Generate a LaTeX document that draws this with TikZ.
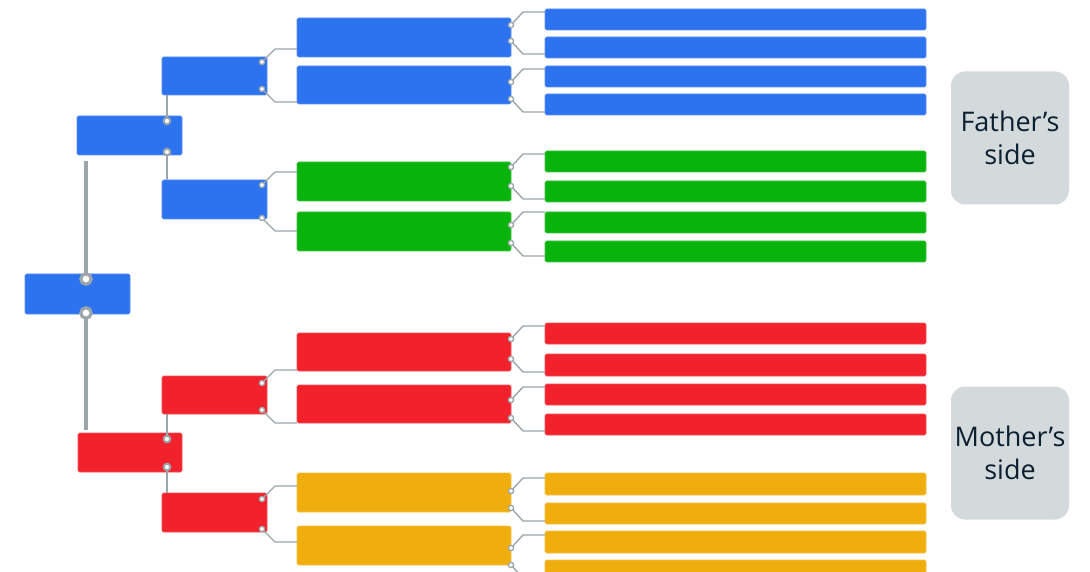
\documentclass[tikz,border=0pt]{standalone}
\usepackage{fontspec}
\newfontfamily\lblfont{Open Sans}
\usetikzlibrary{calc}
\definecolor{cblue}{RGB}{45,115,240}
\definecolor{cgreen}{RGB}{8,180,12}
\definecolor{cred}{RGB}{242,34,45}
\definecolor{corange}{RGB}{240,174,14}
\definecolor{cgray}{RGB}{155,166,171}
\definecolor{clabel}{RGB}{212,218,220}
\definecolor{ctext}{RGB}{10,32,48}
\tikzset{
  box/.style={rectangle, rounded corners=1.5pt, inner sep=0pt, outer sep=0pt,
    draw=#1!80!white, fill=#1, line width=0.6pt},
  conn/.style={draw=cgray, line width=1.4pt},
  midconn/.style={draw=cgray, line width=2.2pt},
  rootconn/.style={draw=cgray, line width=4pt},
  sdot/.style={circle, inner sep=0pt, minimum size=5.2pt, draw=cgray, fill=white, line width=1.3pt},
  mdot/.style={circle, inner sep=0pt, minimum size=6.6pt, draw=cgray, fill=white, line width=2pt},
  rdot/.style={circle, inner sep=0pt, minimum size=10.4pt, draw=cgray, fill=white, line width=3.2pt},
  sidelabel/.style={rectangle, rounded corners=14pt, fill=clabel, minimum width=118pt,
    minimum height=133pt, align=center, text=ctext, font=\lblfont\fontsize{27}{33}\selectfont},
}
\newcommand\bx[6]{\node[box=#2, minimum width={(#5)-(#3)}, minimum height={(#6)-(#4)}]
  (#1) at ({((#3)+(#5))/2},{((#4)+(#6))/2}) {};}
\newcommand\up[3]{\draw[conn] (#1) -- ++(#3,-13) coordinate (t) -- (t -| #2.west);}
\newcommand\dn[3]{\draw[conn] (#1) -- ++(#3,13) coordinate (t) -- (t -| #2.west);}
\begin{document}
\begin{tikzpicture}[x=1pt,y=-1pt]
\useasboundingbox (0,0) rectangle (1090,572);
\clip (0,0) rectangle (1090,572);
% root and level 1
\bx{r}{cblue}{25}{274}{130}{314}
\bx{f}{cblue}{77}{116}{182}{155}
\bx{m}{cred}{78}{433}{182}{472}
% level 2
\bx{fa}{cblue}{162}{57}{267}{95}
\bx{fb}{cblue}{162}{180}{267}{219}
\bx{ma}{cred}{162}{376}{267}{414}
\bx{mb}{cred}{162}{493}{267}{532}
% level 3
\bx{faa}{cblue}{297}{18}{511}{57}
\bx{fab}{cblue}{297}{66}{511}{104}
\bx{fba}{cgreen}{297}{162}{511}{201}
\bx{fbb}{cgreen}{297}{212}{511}{251}
\bx{maa}{cred}{297}{333}{511}{371}
\bx{mab}{cred}{297}{385}{511}{423}
\bx{mba}{corange}{297}{473}{511}{512}
\bx{mbb}{corange}{297}{526}{511}{565}
% level 4
\bx{faa1}{cblue}{545}{9}{926}{30}
\bx{faa2}{cblue}{545}{37}{926}{58}
\bx{fab1}{cblue}{545}{66}{926}{87}
\bx{fab2}{cblue}{545}{94}{926}{115}
\bx{fba1}{cgreen}{545}{151}{926}{172}
\bx{fba2}{cgreen}{545}{181}{926}{202}
\bx{fbb1}{cgreen}{545}{212}{926}{233}
\bx{fbb2}{cgreen}{545}{241}{926}{262}
\bx{maa1}{cred}{545}{323}{926}{344}
\bx{maa2}{cred}{545}{354}{926}{376}
\bx{mab1}{cred}{545}{384}{926}{405}
\bx{mab2}{cred}{545}{414}{926}{435}
\bx{mba1}{corange}{545}{473}{926}{495}
\bx{mba2}{corange}{545}{503}{926}{524}
\bx{mbb1}{corange}{545}{531}{926}{553}
\bx{mbb2}{corange}{545}{560}{926}{581}
% dot positions
\coordinate (rt) at (86,279);  \coordinate (rb) at (86,313);
\coordinate (ft) at (167,121); \coordinate (fbt) at (167,152);
\coordinate (mt) at (167,439); \coordinate (mbt) at (167,467);
\coordinate (fa1) at (262,62);  \coordinate (fa2) at (262,89);
\coordinate (fb1) at (262,185); \coordinate (fb2) at (262,218);
\coordinate (ma1) at (262,383); \coordinate (ma2) at (262,410);
\coordinate (mb1) at (262,499); \coordinate (mb2) at (262,529);
\coordinate (faa+) at (511,25);  \coordinate (faa-) at (511,41);
\coordinate (fab+) at (511,82);  \coordinate (fab-) at (511,99);
\coordinate (fba+) at (511,167); \coordinate (fba-) at (511,186);
\coordinate (fbb+) at (511,225); \coordinate (fbb-) at (511,243);
\coordinate (maa+) at (511,339); \coordinate (maa-) at (511,359);
\coordinate (mab+) at (511,400); \coordinate (mab-) at (511,418);
\coordinate (mba+) at (511,491); \coordinate (mba-) at (511,508);
\coordinate (mbb+) at (511,548); \coordinate (mbb-) at (511,565);
% root connectors
\draw[rootconn] (rt) -- ($(rt |- f.south)+(0,6)$);
\draw[rootconn] (rb) -- ($(rb |- m.north)+(0,-3)$);
% level1 -> level2
\draw[midconn] (ft) -- (ft |- fa.south);
\draw[midconn] (fbt) -- (fbt |- fb.north);
\draw[midconn] (mt) -- (mt |- ma.south);
\draw[midconn] (mbt) -- (mbt |- mb.north);
% level2 -> level3
\up{fa1}{faa}{13} \dn{fa2}{fab}{13}
\up{fb1}{fba}{13} \dn{fb2}{fbb}{13}
\up{ma1}{maa}{13} \dn{ma2}{mab}{13}
\up{mb1}{mba}{13} \dn{mb2}{mbb}{13}
% level3 -> level4
\up{faa+}{faa1}{12} \dn{faa-}{faa2}{12}
\up{fab+}{fab1}{12} \dn{fab-}{fab2}{12}
\up{fba+}{fba1}{12} \dn{fba-}{fba2}{12}
\up{fbb+}{fbb1}{12} \dn{fbb-}{fbb2}{12}
\up{maa+}{maa1}{12} \dn{maa-}{maa2}{12}
\up{mab+}{mab1}{12} \dn{mab-}{mab2}{12}
\up{mba+}{mba1}{12} \dn{mba-}{mba2}{12}
\up{mbb+}{mbb1}{12} \dn{mbb-}{mbb2}{12}
% dots
\node[rdot] at (rt) {}; \node[rdot] at (rb) {};
\foreach \d in {ft,fbt,mt,mbt} \node[mdot] at (\d) {};
\foreach \d in {fa1,fa2,fb1,fb2,ma1,ma2,mb1,mb2,
  faa+,faa-,fab+,fab-,fba+,fba-,fbb+,fbb-,maa+,maa-,mab+,mab-,mba+,mba-,mbb+,mbb-}
  \node[sdot] at (\d) {};
% side labels
\node[sidelabel] (father) at (1010,138) {Father’s\\side};
\node[sidelabel] (mother) at (1010,453) {Mother’s\\side};
\end{tikzpicture}
\end{document}
